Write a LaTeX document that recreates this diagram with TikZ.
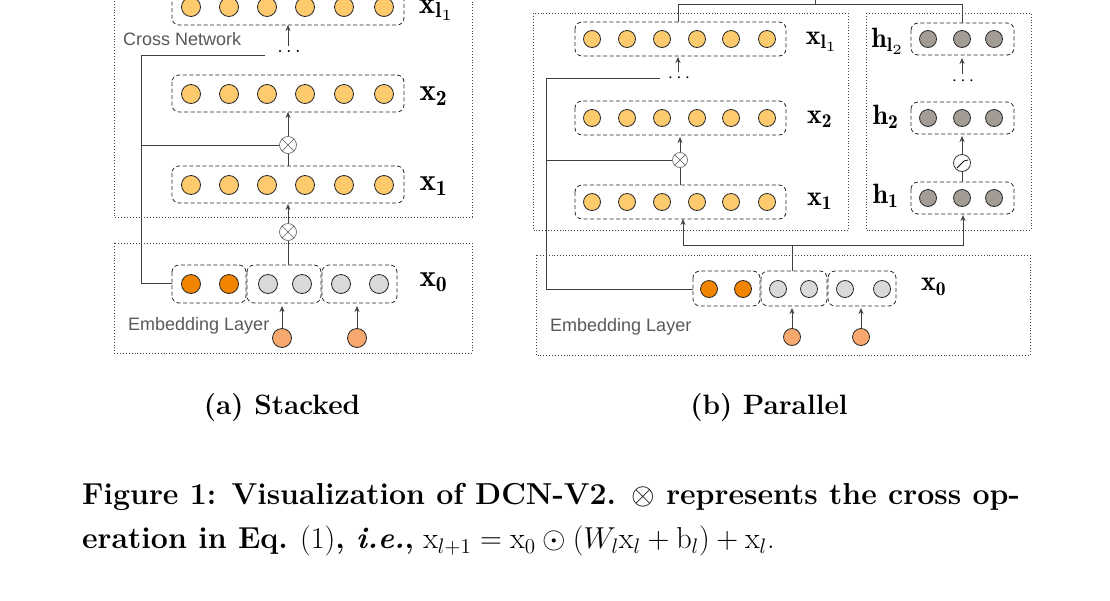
\documentclass[tikz,border=0pt]{standalone}
\usepackage{fontspec}
\newfontfamily\sansf{Liberation Sans}
\usetikzlibrary{arrows.meta}
\definecolor{yel}{HTML}{FDCB6E}
\definecolor{org}{HTML}{F28500}
\definecolor{lgr}{HTML}{D9D9D9}
\definecolor{dgr}{HTML}{A39C94}
\definecolor{inp}{HTML}{F6A86E}
\newcommand{\lb}[1]{\scalebox{3.1}{$#1$}}
\begin{document}
\begin{tikzpicture}[x=1pt,y=-1pt,
  dot/.style={circle,draw=black!85,line width=0.8pt,minimum size=19pt,inner sep=0pt},
  sdot/.style={circle,draw=black!85,line width=0.8pt,minimum size=17pt,inner sep=0pt},
  grp/.style={draw=black!85,dash pattern=on 4pt off 2.5pt,rounded corners=7pt,line width=0.8pt},
  area/.style={draw=black!75,dotted,line width=0.9pt},
  op/.style={circle,draw=black!65,fill=white,minimum size=17pt,inner sep=0pt,line width=0.6pt,
    path picture={\draw[black!65,line width=0.6pt] (path picture bounding box.north west) -- (path picture bounding box.south east) (path picture bounding box.north east) -- (path picture bounding box.south west);}},
  ln/.style={draw=black!75,line width=1pt},
  ar/.style={ln,-{Stealth[length=6pt,width=5pt]}},
  lab/.style={inner sep=0pt},
  tag/.style={font=\sansf\fontsize{18}{18}\selectfont,text=black!65,anchor=west,inner sep=0pt},
  dots/.style={inner sep=0pt,font=\bfseries},
]
\useasboundingbox (0,0) rectangle (1110,600);
% ================= (a) =================
\draw[area] (114,-5) rectangle (472,217);
\draw[area] (114,243) rectangle (472,353);
\node[tag] (cn) at (123,39) {Cross Network};
\node[tag] (el) at (128,326) {Embedding Layer};
\foreach \r/\y in {l/7,b/94,a/185}{
  \draw[grp] (172,\y-19) rectangle (404,\y+18);
  \foreach \i/\x in {1/191,2/229,3/267,4/305,5/344,6/384}
    \node[dot,fill=yel] (a\r\i) at (\x,\y) {};
}
\coordinate (alT) at (288,25);
\coordinate (abB) at (288,112);
\coordinate (aaB) at (288,204);
\coordinate (aaT) at (288,166);
\draw[grp] (172,265) rectangle (246,303);
\draw[grp] (247,265) rectangle (321,303);
\draw[grp] (322,265) rectangle (397,303);
\node[dot,fill=org] (a01) at (191,284) {};
\node[dot,fill=org] (a02) at (229,284) {};
\node[dot,fill=lgr] (a03) at (268,284) {};
\node[dot,fill=lgr] (a04) at (302,284) {};
\node[dot,fill=lgr] (a05) at (341,284) {};
\node[dot,fill=lgr] (a06) at (379,284) {};
\coordinate (a0L) at (172,283);
\coordinate (a0T) at (288,265);
\coordinate (a0B1) at (282,306);
\coordinate (a0B2) at (357,306);
\node[dot,fill=inp] (ai1) at (282,338) {};
\node[dot,fill=inp] (ai2) at (357,338) {};
\draw[ar] (ai1) -- (a0B1);
\draw[ar] (ai2) -- (a0B2);
\node[op] (ox1) at (288,232) {};
\node[op] (ox2) at (288,145) {};
\node[dots] (adots) at (289,52) {\scalebox{2}{$\cdots$}};
\draw[ln] (a0T) -- (ox1);
\draw[ar] (ox1) -- (aaB);
\draw[ln] (aaT) -- (ox2);
\draw[ar] (ox2) -- (abB);
\draw[ar] (288,46) -- (alT);
\coordinate (aLe) at (265,55);
\draw[ln] (a0L) -- (141,283) -- (141,55) -- (aLe);
\draw[ln] (141,145) -- (ox2);
\node[lab] (axl) at (437,10) {\lb{\mathbf{x}_{\mathbf{l}_1}}};
\node[lab] (ax2) at (434,96) {\lb{\mathbf{x}_{\mathbf{2}}}};
\node[lab] (ax1) at (434,186) {\lb{\mathbf{x}_{\mathbf{1}}}};
\node[lab] (ax0) at (434,282) {\lb{\mathbf{x}_{\mathbf{0}}}};
% ================= (b) =================
\draw[area] (533,13) rectangle (848,230);
\draw[area] (866,13) rectangle (1031,230);
\draw[area] (536,255) rectangle (1030,355);
\node[tag] (bel) at (550,327) {Embedding Layer};
\foreach \r/\y in {l/39,b/118,a/202}{
  \draw[grp] (575,\y-17) rectangle (786,\y+17);
  \foreach \i/\x in {1/592,2/627,3/662,4/697,5/731,6/767}
    \node[sdot,fill=yel] (b\r\i) at (\x,\y) {};
}
\foreach \r/\y in {l/39,b/118,a/198}{
  \draw[grp] (911,\y-16) rectangle (1014,\y+16);
  \foreach \i/\x in {1/928,2/962,3/994}
    \node[sdot,fill=dgr] (h\r\i) at (\x,\y) {};
}
\draw[grp] (693,271) rectangle (760,306);
\draw[grp] (761,271) rectangle (827,306);
\draw[grp] (828,271) rectangle (896,306);
\node[sdot,fill=org] (b01) at (709,289) {};
\node[sdot,fill=org] (b02) at (743,289) {};
\node[sdot,fill=lgr] (b03) at (778,289) {};
\node[sdot,fill=lgr] (b04) at (809,289) {};
\node[sdot,fill=lgr] (b05) at (845,289) {};
\node[sdot,fill=lgr] (b06) at (882,289) {};
\node[sdot,fill=inp] (bi1) at (792,337) {};
\node[sdot,fill=inp] (bi2) at (861,337) {};
\coordinate (b0B1) at (792,308);
\coordinate (b0B2) at (861,308);
\draw[ar] (bi1) -- (b0B1);
\draw[ar] (bi2) -- (b0B2);
\coordinate (b0T) at (792,271);
\coordinate (b0L) at (693,289);
\coordinate (bj) at (792,245);
\coordinate (baB) at (683,219);
\coordinate (haB) at (963,215);
\draw[ln] (b0T) -- (bj);
\draw[ar] (bj) -| (baB);
\draw[ar] (bj) -| (haB);
\node[op,minimum size=15pt] (box) at (680,160) {};
\draw[ln] (680,185) -- (box);
\draw[ar] (box) -- (680,137);
\node[dots] (bdots) at (679,78) {\scalebox{1.9}{$\cdots$}};
\draw[ar] (678,72) -- (678,57);
\draw[ln] (b0L) -- (546,289) -- (546,78) -- (660,78);
\draw[ln] (546,160) -- (box);
\node[circle,draw=black!80,fill=white,minimum size=17pt,inner sep=0pt,line width=0.8pt] (act) at (962,163) {};
\draw[line width=0.8pt] ([xshift=-5pt,yshift=-5pt]act.center) -- ([xshift=2pt,yshift=2pt]act.center) -- ([xshift=6pt,yshift=3pt]act.center);
\draw[ln] (962,182) -- (act);
\draw[ar] (act) -- (962,136);
\node[dots] (hdots) at (963,81) {\scalebox{1.9}{$\cdots$}};
\draw[ar] (962,74) -- (962,58);
\coordinate (blT) at (678,22);
\coordinate (hlT) at (962,23);
\draw[ln] (blT) -- (678,4) -- (962,4) -- (hlT);
\draw[ln] (815,4) -- (815,-5);
\node[lab] (bxl) at (822,42) {\scalebox{0.9}{\lb{\mathbf{x}_{\mathbf{l}_1}}}};
\node[lab] (bx2) at (820,119) {\scalebox{0.9}{\lb{\mathbf{x}_{\mathbf{2}}}}};
\node[lab] (bx1) at (820,201) {\scalebox{0.9}{\lb{\mathbf{x}_{\mathbf{1}}}}};
\node[lab] (bx0) at (934,287) {\scalebox{0.9}{\lb{\mathbf{x}_{\mathbf{0}}}}};
\node[lab] (hl) at (888,41) {\scalebox{0.9}{\lb{\mathbf{h}_{\mathbf{l}_2}}}};
\node[lab] (h2) at (886,117) {\scalebox{0.9}{\lb{\mathbf{h}_{\mathbf{2}}}}};
\node[lab] (h1) at (886,196) {\scalebox{0.9}{\lb{\mathbf{h}_{\mathbf{1}}}}};
% captions
\node[inner sep=0pt] (capa) at (282,408) {\scalebox{1.35}{\fontsize{20.74}{25}\selectfont\bfseries (a) Stacked}};
\node[inner sep=0pt] (capb) at (769,408) {\scalebox{1.35}{\fontsize{20.74}{25}\selectfont\bfseries (b) Parallel}};
\node[anchor=west,inner sep=0pt] (f1) at (82,497) {\scalebox{1.46}{\fontsize{20.74}{25}\selectfont\bfseries Figure 1: Visualization of DCN-V2. $\otimes$ represents the cross op-}};
\node[anchor=west,inner sep=0pt] (f2) at (82,541) {\scalebox{1.46}{\fontsize{20.74}{25}\selectfont\textbf{eration in Eq.} (1)\textbf{, \textit{i.e.},} $\mathrm{x}_{l+1}=\mathrm{x}_0\odot(W_l\mathrm{x}_l+\mathrm{b}_l)+\mathrm{x}_l$.}};
\end{tikzpicture}
\end{document}
